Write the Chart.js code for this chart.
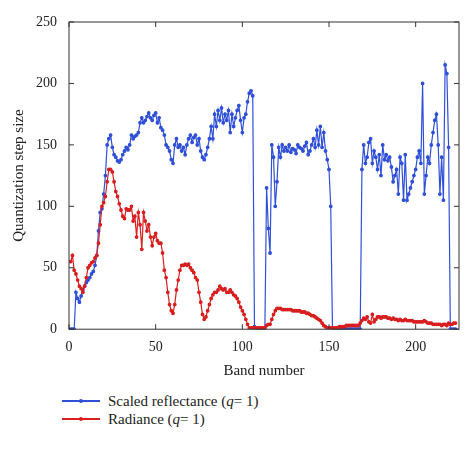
<!DOCTYPE html>
<html><head><meta charset="utf-8">
<script src="https://cdn.jsdelivr.net/npm/chart.js@4/dist/chart.umd.min.js"></script>
<style>
body{margin:0;background:#fff;font-family:"Liberation Serif",serif;}
#wrap{position:relative;width:474px;height:452px;}
#legend{position:absolute;left:62px;top:392px;font-size:15px;color:#222;}
.row{display:flex;align-items:center;height:18px;}
.sw{position:relative;width:38px;height:2px;margin-right:8px;}
.sw i{position:absolute;left:17px;top:-1px;width:4px;height:4px;border-radius:2px;}
</style></head>
<body><div id="wrap">
<canvas id="c" width="474" height="384" style="width:474px;height:384px"></canvas>
<div id="legend">
<div class="row"><div class="sw" style="background:#2f4fd8"><i style="background:#2f4fd8"></i></div>Scaled reflectance (<i>q</i>= 1)</div>
<div class="row"><div class="sw" style="background:#d81e1e"><i style="background:#d81e1e"></i></div>Radiance (<i>q</i> = 1)</div>
</div></div>
<script>
const reflectance = [
0,0,0,30,25,22,27,32,35,38,40,42,45,47,52,60,80,95,98,110,125,150,155,158,148,142,140,137,136,138,
142,145,148,146,150,158,155,157,158,160,168,172,168,170,173,176,172,170,174,176,168,172,164,162,158,150,148,145,138,135,
150,155,148,150,145,148,142,150,155,158,152,156,158,150,155,145,140,138,142,148,155,165,155,175,165,178,170,180,168,175,
170,178,160,175,165,172,178,182,170,160,172,175,185,192,194,190,2,0,0,0,0,0,0,115,82,62,150,140,100,120,
148,140,150,145,148,145,150,144,147,146,143,150,148,147,145,149,152,142,145,150,155,148,162,150,165,148,160,145,138,130,100,0,0,
0,0,0,0,0,0,0,0,0,0,0,0,0,0,0,130,150,135,140,152,155,135,145,140,130,142,125,150,
138,142,137,140,132,120,125,130,110,140,135,105,142,105,110,115,120,125,130,140,145,135,200,110,125,140,135,150,160,170,
175,150,110,140,105,215,208,148,0,0,0,0
];
const radiance = [
55,60,48,45,40,35,33,30,35,42,50,52,54,55,58,60,70,85,100,103,108,120,130,130,128,120,112,108,102,97,
92,90,98,97,97,100,88,92,75,95,85,65,95,88,80,85,75,68,75,78,72,70,70,62,48,42,30,20,15,13,
20,32,40,48,52,52,53,52,53,50,48,46,42,40,30,22,12,8,10,15,20,25,28,30,30,32,35,33,32,33,
30,30,32,30,28,27,25,22,18,15,12,8,4,1,1,1,1,1,1,1,1,1,1,3,4,4,8,12,15,17,
17,17,16,16,16,16,16,16,15,15,15,15,15,14,14,14,13,13,12,11,11,10,9,8,7,5,3,2,1,1,
1,1,1,1,1,2,2,2,2,3,3,3,3,3,3,3,3,5,7,9,8,10,6,5,12,6,8,10,10,9,
10,10,10,9,9,8,9,8,8,7,8,7,7,8,7,7,7,7,6,6,6,6,6,6,7,6,5,5,5,4,
4,4,4,4,3,4,4,3,5,4,4,5,5,5
];
const bands = reflectance.map((_, i) => i + 1);
const xTicks = [0, 50, 100, 150, 200];
const yTicks = [0, 50, 100, 150, 200, 250];

const frame = {
  id: 'frame',
  afterDraw(chart) {
    const {ctx, chartArea: a, scales} = chart;
    ctx.save();
    ctx.strokeStyle = '#333';
    ctx.lineWidth = 1;
    ctx.strokeRect(a.left, a.top, a.right - a.left, a.bottom - a.top);
    ctx.beginPath();
    for (const t of xTicks) {
      const x = scales.x.getPixelForValue(t);
      ctx.moveTo(x, a.bottom); ctx.lineTo(x, a.bottom - 5);
      ctx.moveTo(x, a.top); ctx.lineTo(x, a.top + 5);
    }
    for (const t of yTicks) {
      const y = scales.y.getPixelForValue(t);
      ctx.moveTo(a.left, y); ctx.lineTo(a.left + 5, y);
      ctx.moveTo(a.right, y); ctx.lineTo(a.right - 5, y);
    }
    ctx.stroke();
    ctx.restore();
  }
};

const font = {family: 'Liberation Serif', size: 14};
const series = (data, color) => ({
  data: data.map((v, i) => ({x: bands[i], y: v})),
  borderColor: color, backgroundColor: color,
  borderWidth: 1.2, pointRadius: 1.3, pointHoverRadius: 1.3, tension: 0,
});

new Chart(document.getElementById('c'), {
  type: 'line',
  data: {datasets: [series(radiance, '#d81e1e'), series(reflectance, '#2f4fd8')]},
  plugins: [frame],
  options: {
    responsive: false, animation: false,
    layout: {padding: {top: 22, right: 15, left: 6}},
    plugins: {legend: {display: false}, tooltip: {enabled: false}},
    scales: {
      x: {
        type: 'linear', min: 0, max: 225,
        afterBuildTicks: s => { s.ticks = xTicks.map(v => ({value: v})); },
        grid: {display: false}, border: {display: false},
        ticks: {color: '#222', font, padding: 2},
        title: {display: true, text: 'Band number', color: '#222', font: {family: 'Liberation Serif', size: 15}, padding: {top: 4}}
      },
      y: {
        min: 0, max: 250,
        afterBuildTicks: s => { s.ticks = yTicks.map(v => ({value: v})); },
        grid: {display: false}, border: {display: false},
        ticks: {color: '#222', font, padding: 4},
        title: {display: true, text: 'Quantization step size', color: '#222', font: {family: 'Liberation Serif', size: 15}}
      }
    }
  }
});
</script></body></html>
